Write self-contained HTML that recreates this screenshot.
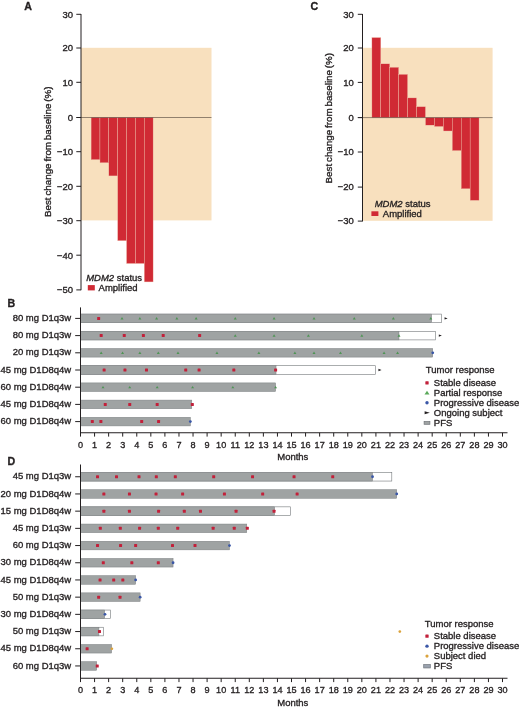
<!DOCTYPE html>
<html lang="en">
<head>
<meta charset="utf-8">
<title>Figure</title>
<style>
html,body{margin:0;padding:0;background:#fff;}
body{width:520px;height:708px;overflow:hidden;}
svg{display:block;font-family:"Liberation Sans",Arial,Helvetica,sans-serif;fill:#231f20;}
text{stroke:#231f20;stroke-width:0.34px;}
</style>
</head>
<body>
<svg width="520" height="708" viewBox="0 0 520 708">
<rect x="0" y="0" width="520" height="708" fill="#ffffff"/>
<text transform="translate(24.20 10.20) scale(0.97 1)" font-size="11" font-weight="bold">A</text>
<rect x="81.00" y="47.80" width="130.50" height="172.60" fill="#f8e0be"/>
<rect x="91.10" y="117.50" width="8.86" height="42.16" fill="#d02a34" stroke="#f0c9b4" stroke-width="0.35"/>
<rect x="99.96" y="117.50" width="8.86" height="45.27" fill="#d02a34" stroke="#f0c9b4" stroke-width="0.35"/>
<rect x="108.82" y="117.50" width="8.86" height="58.42" fill="#d02a34" stroke="#f0c9b4" stroke-width="0.35"/>
<rect x="117.68" y="117.50" width="8.86" height="123.21" fill="#d02a34" stroke="#f0c9b4" stroke-width="0.35"/>
<rect x="126.54" y="117.50" width="8.86" height="146.03" fill="#d02a34" stroke="#f0c9b4" stroke-width="0.35"/>
<rect x="135.40" y="117.50" width="8.86" height="146.03" fill="#d02a34" stroke="#f0c9b4" stroke-width="0.35"/>
<rect x="144.26" y="117.50" width="8.86" height="164.42" fill="#d02a34" stroke="#f0c9b4" stroke-width="0.35"/>
<line x1="76.30" y1="117.50" x2="211.50" y2="117.50" stroke="#3a302a" stroke-width="0.55"/>
<line x1="81.00" y1="14.00" x2="81.00" y2="290.20" stroke="#231f20" stroke-width="1.0"/>
<line x1="76.30" y1="14.30" x2="81.00" y2="14.30" stroke="#231f20" stroke-width="1.0"/>
<text transform="translate(73.15 17.60) scale(0.97 1)" font-size="9.8" text-anchor="end">30</text>
<line x1="76.30" y1="48.00" x2="81.00" y2="48.00" stroke="#231f20" stroke-width="1.0"/>
<text transform="translate(73.15 51.30) scale(0.97 1)" font-size="9.8" text-anchor="end">20</text>
<line x1="76.30" y1="82.30" x2="81.00" y2="82.30" stroke="#231f20" stroke-width="1.0"/>
<text transform="translate(73.15 85.60) scale(0.97 1)" font-size="9.8" text-anchor="end">10</text>
<line x1="76.30" y1="117.50" x2="81.00" y2="117.50" stroke="#231f20" stroke-width="1.0"/>
<text transform="translate(73.15 120.80) scale(0.97 1)" font-size="9.8" text-anchor="end">0</text>
<line x1="76.30" y1="151.70" x2="81.00" y2="151.70" stroke="#231f20" stroke-width="1.0"/>
<text transform="translate(73.15 155.00) scale(0.97 1)" font-size="9.8" text-anchor="end">−10</text>
<line x1="76.30" y1="186.30" x2="81.00" y2="186.30" stroke="#231f20" stroke-width="1.0"/>
<text transform="translate(73.15 189.60) scale(0.97 1)" font-size="9.8" text-anchor="end">−20</text>
<line x1="76.30" y1="220.70" x2="81.00" y2="220.70" stroke="#231f20" stroke-width="1.0"/>
<text transform="translate(73.15 224.00) scale(0.97 1)" font-size="9.8" text-anchor="end">−30</text>
<line x1="76.30" y1="255.20" x2="81.00" y2="255.20" stroke="#231f20" stroke-width="1.0"/>
<text transform="translate(73.15 258.50) scale(0.97 1)" font-size="9.8" text-anchor="end">−40</text>
<line x1="76.30" y1="289.90" x2="81.00" y2="289.90" stroke="#231f20" stroke-width="1.0"/>
<text transform="translate(73.15 293.20) scale(0.97 1)" font-size="9.8" text-anchor="end">−50</text>
<text transform="translate(50.90,151.80) rotate(-90)" font-size="9.8" text-anchor="middle" word-spacing="-0.85">Best change from baseline (%)</text>
<text transform="translate(86.20 281.00) scale(0.97 1)" font-size="9.8"><tspan font-style="italic">MDM2</tspan> status</text>
<rect x="87.80" y="285.10" width="7.00" height="5.30" fill="#d02a34"/>
<text transform="translate(98.60 291.30) scale(0.97 1)" font-size="9.8">Amplified</text>
<text transform="translate(310.40 10.20) scale(0.97 1)" font-size="11" font-weight="bold">C</text>
<rect x="362.50" y="47.80" width="130.10" height="173.00" fill="#f8e0be"/>
<rect x="371.90" y="37.55" width="8.93" height="80.05" fill="#d02a34" stroke="#f0c9b4" stroke-width="0.35"/>
<rect x="380.83" y="63.82" width="8.93" height="53.78" fill="#d02a34" stroke="#f0c9b4" stroke-width="0.35"/>
<rect x="389.76" y="67.26" width="8.93" height="50.34" fill="#d02a34" stroke="#f0c9b4" stroke-width="0.35"/>
<rect x="398.69" y="74.32" width="8.93" height="43.28" fill="#d02a34" stroke="#f0c9b4" stroke-width="0.35"/>
<rect x="407.62" y="97.89" width="8.93" height="19.71" fill="#d02a34" stroke="#f0c9b4" stroke-width="0.35"/>
<rect x="416.55" y="106.69" width="8.93" height="10.91" fill="#d02a34" stroke="#f0c9b4" stroke-width="0.35"/>
<rect x="425.48" y="117.60" width="8.93" height="7.57" fill="#d02a34" stroke="#f0c9b4" stroke-width="0.35"/>
<rect x="434.41" y="117.60" width="8.93" height="8.94" fill="#d02a34" stroke="#f0c9b4" stroke-width="0.35"/>
<rect x="443.34" y="117.60" width="8.93" height="13.42" fill="#d02a34" stroke="#f0c9b4" stroke-width="0.35"/>
<rect x="452.27" y="117.60" width="8.93" height="33.02" fill="#d02a34" stroke="#f0c9b4" stroke-width="0.35"/>
<rect x="461.20" y="117.60" width="8.93" height="71.20" fill="#d02a34" stroke="#f0c9b4" stroke-width="0.35"/>
<rect x="470.13" y="117.60" width="8.93" height="82.76" fill="#d02a34" stroke="#f0c9b4" stroke-width="0.35"/>
<line x1="357.80" y1="117.60" x2="492.60" y2="117.60" stroke="#3a302a" stroke-width="0.55"/>
<line x1="362.50" y1="14.00" x2="362.50" y2="221.40" stroke="#231f20" stroke-width="1.0"/>
<line x1="357.80" y1="14.30" x2="362.50" y2="14.30" stroke="#231f20" stroke-width="1.0"/>
<text transform="translate(353.90 17.60) scale(0.97 1)" font-size="9.8" text-anchor="end">30</text>
<line x1="357.80" y1="48.00" x2="362.50" y2="48.00" stroke="#231f20" stroke-width="1.0"/>
<text transform="translate(353.90 51.30) scale(0.97 1)" font-size="9.8" text-anchor="end">20</text>
<line x1="357.80" y1="82.40" x2="362.50" y2="82.40" stroke="#231f20" stroke-width="1.0"/>
<text transform="translate(353.90 85.70) scale(0.97 1)" font-size="9.8" text-anchor="end">10</text>
<line x1="357.80" y1="117.60" x2="362.50" y2="117.60" stroke="#231f20" stroke-width="1.0"/>
<text transform="translate(353.90 120.90) scale(0.97 1)" font-size="9.8" text-anchor="end">0</text>
<line x1="357.80" y1="152.00" x2="362.50" y2="152.00" stroke="#231f20" stroke-width="1.0"/>
<text transform="translate(353.90 155.30) scale(0.97 1)" font-size="9.8" text-anchor="end">−10</text>
<line x1="357.80" y1="187.10" x2="362.50" y2="187.10" stroke="#231f20" stroke-width="1.0"/>
<text transform="translate(353.90 190.40) scale(0.97 1)" font-size="9.8" text-anchor="end">−20</text>
<line x1="357.80" y1="221.10" x2="362.50" y2="221.10" stroke="#231f20" stroke-width="1.0"/>
<text transform="translate(353.90 224.40) scale(0.97 1)" font-size="9.8" text-anchor="end">−30</text>
<text transform="translate(331.70,118.20) rotate(-90)" font-size="9.8" text-anchor="middle" word-spacing="-0.85">Best change from baseline (%)</text>
<text transform="translate(374.70 206.50) scale(0.97 1)" font-size="9.8"><tspan font-style="italic">MDM2</tspan> status</text>
<rect x="371.40" y="211.30" width="7.00" height="4.70" fill="#d02a34"/>
<text transform="translate(382.80 217.00) scale(0.97 1)" font-size="9.8">Amplified</text>
<text transform="translate(7.60 306.50) scale(0.97 1)" font-size="11" font-weight="bold">B</text>
<rect x="80.50" y="314.10" width="360.96" height="8.60" fill="#ffffff" stroke="#73777a" stroke-width="0.6"/>
<rect x="80.50" y="314.10" width="351.11" height="8.60" fill="#9fa3a3" stroke="#7b7f80" stroke-width="0.5"/>
<rect x="97.15" y="316.90" width="3.00" height="3.00" rx="0.5" fill="#c2203a"/>
<path d="M120.50 319.50 L123.50 319.50 L122.00 317.10 Z" fill="#4f9555"/>
<path d="M138.36 319.50 L141.36 319.50 L139.86 317.10 Z" fill="#4f9555"/>
<path d="M155.10 319.50 L158.10 319.50 L156.60 317.10 Z" fill="#4f9555"/>
<path d="M175.36 319.50 L178.36 319.50 L176.86 317.10 Z" fill="#4f9555"/>
<path d="M194.63 319.50 L197.63 319.50 L196.13 317.10 Z" fill="#4f9555"/>
<path d="M233.74 319.50 L236.74 319.50 L235.24 317.10 Z" fill="#4f9555"/>
<path d="M272.56 319.50 L275.56 319.50 L274.06 317.10 Z" fill="#4f9555"/>
<path d="M312.51 319.50 L315.51 319.50 L314.01 317.10 Z" fill="#4f9555"/>
<path d="M352.74 319.50 L355.74 319.50 L354.24 317.10 Z" fill="#4f9555"/>
<path d="M391.85 319.50 L394.85 319.50 L393.35 317.10 Z" fill="#4f9555"/>
<path d="M429.27 319.50 L432.27 319.50 L430.77 317.10 Z" fill="#4f9555"/>
<path d="M444.56 317.20 L447.66 318.40 L444.56 319.60 Z" fill="#231f20"/>
<line x1="75.20" y1="318.40" x2="80.50" y2="318.40" stroke="#231f20" stroke-width="1.0"/>
<text transform="translate(71.20 320.95) scale(0.97 1)" font-size="9.8" text-anchor="end">80 mg D1q3w</text>
<rect x="80.50" y="331.30" width="355.19" height="8.60" fill="#ffffff" stroke="#73777a" stroke-width="0.6"/>
<rect x="80.50" y="331.30" width="318.48" height="8.60" fill="#9fa3a3" stroke="#7b7f80" stroke-width="0.5"/>
<rect x="99.68" y="334.10" width="3.00" height="3.00" rx="0.5" fill="#c2203a"/>
<rect x="122.75" y="334.10" width="3.00" height="3.00" rx="0.5" fill="#c2203a"/>
<rect x="141.88" y="334.10" width="3.00" height="3.00" rx="0.5" fill="#c2203a"/>
<rect x="161.71" y="334.10" width="3.00" height="3.00" rx="0.5" fill="#c2203a"/>
<rect x="198.15" y="334.10" width="3.00" height="3.00" rx="0.5" fill="#c2203a"/>
<path d="M233.74 336.70 L236.74 336.70 L235.24 334.30 Z" fill="#4f9555"/>
<path d="M272.56 336.70 L275.56 336.70 L274.06 334.30 Z" fill="#4f9555"/>
<path d="M306.89 336.70 L309.89 336.70 L308.39 334.30 Z" fill="#4f9555"/>
<path d="M360.34 336.70 L363.34 336.70 L361.84 334.30 Z" fill="#4f9555"/>
<path d="M397.48 336.70 L400.48 336.70 L398.98 334.30 Z" fill="#4f9555"/>
<path d="M438.79 334.40 L441.89 335.60 L438.79 336.80 Z" fill="#231f20"/>
<line x1="75.20" y1="335.60" x2="80.50" y2="335.60" stroke="#231f20" stroke-width="1.0"/>
<text transform="translate(71.20 338.15) scale(0.97 1)" font-size="9.8" text-anchor="end">80 mg D1q3w</text>
<rect x="80.50" y="348.50" width="352.24" height="8.60" fill="#9fa3a3" stroke="#7b7f80" stroke-width="0.5"/>
<path d="M99.68 353.90 L102.68 353.90 L101.18 351.50 Z" fill="#4f9555"/>
<path d="M121.06 353.90 L124.06 353.90 L122.56 351.50 Z" fill="#4f9555"/>
<path d="M138.36 353.90 L141.36 353.90 L139.86 351.50 Z" fill="#4f9555"/>
<path d="M156.79 353.90 L159.79 353.90 L158.29 351.50 Z" fill="#4f9555"/>
<path d="M176.48 353.90 L179.48 353.90 L177.98 351.50 Z" fill="#4f9555"/>
<path d="M215.45 353.90 L218.45 353.90 L216.95 351.50 Z" fill="#4f9555"/>
<path d="M257.37 353.90 L260.37 353.90 L258.87 351.50 Z" fill="#4f9555"/>
<path d="M293.38 353.90 L296.38 353.90 L294.88 351.50 Z" fill="#4f9555"/>
<path d="M312.51 353.90 L315.51 353.90 L314.01 351.50 Z" fill="#4f9555"/>
<path d="M338.96 353.90 L341.96 353.90 L340.46 351.50 Z" fill="#4f9555"/>
<path d="M382.57 353.90 L385.57 353.90 L384.07 351.50 Z" fill="#4f9555"/>
<path d="M396.07 353.90 L399.07 353.90 L397.57 351.50 Z" fill="#4f9555"/>
<circle cx="432.74" cy="352.80" r="1.4" fill="#3a57a7"/>
<line x1="75.20" y1="352.80" x2="80.50" y2="352.80" stroke="#231f20" stroke-width="1.0"/>
<text transform="translate(71.20 355.35) scale(0.97 1)" font-size="9.8" text-anchor="end">20 mg D1q3w</text>
<rect x="80.50" y="365.70" width="294.84" height="8.60" fill="#ffffff" stroke="#73777a" stroke-width="0.6"/>
<rect x="80.50" y="365.70" width="195.53" height="8.60" fill="#9fa3a3" stroke="#7b7f80" stroke-width="0.5"/>
<rect x="102.63" y="368.50" width="3.00" height="3.00" rx="0.5" fill="#c2203a"/>
<rect x="123.45" y="368.50" width="3.00" height="3.00" rx="0.5" fill="#c2203a"/>
<rect x="144.97" y="368.50" width="3.00" height="3.00" rx="0.5" fill="#c2203a"/>
<rect x="184.22" y="368.50" width="3.00" height="3.00" rx="0.5" fill="#c2203a"/>
<rect x="197.58" y="368.50" width="3.00" height="3.00" rx="0.5" fill="#c2203a"/>
<rect x="232.33" y="368.50" width="3.00" height="3.00" rx="0.5" fill="#c2203a"/>
<rect x="274.11" y="368.50" width="3.00" height="3.00" rx="0.5" fill="#c2203a"/>
<path d="M378.44 368.80 L381.54 370.00 L378.44 371.20 Z" fill="#231f20"/>
<line x1="75.20" y1="370.00" x2="80.50" y2="370.00" stroke="#231f20" stroke-width="1.0"/>
<text transform="translate(71.20 372.55) scale(0.97 1)" font-size="9.8" text-anchor="end">45 mg D1D8q4w</text>
<rect x="80.50" y="382.90" width="195.11" height="8.60" fill="#9fa3a3" stroke="#7b7f80" stroke-width="0.5"/>
<path d="M101.51 388.30 L104.51 388.30 L103.01 385.90 Z" fill="#4f9555"/>
<path d="M128.23 388.30 L131.23 388.30 L129.73 385.90 Z" fill="#4f9555"/>
<path d="M155.67 388.30 L158.67 388.30 L157.17 385.90 Z" fill="#4f9555"/>
<path d="M191.11 388.30 L194.11 388.30 L192.61 385.90 Z" fill="#4f9555"/>
<path d="M231.35 388.30 L234.35 388.30 L232.85 385.90 Z" fill="#4f9555"/>
<path d="M274.11 388.30 L277.11 388.30 L275.61 385.90 Z" fill="#4f9555"/>
<line x1="75.20" y1="387.20" x2="80.50" y2="387.20" stroke="#231f20" stroke-width="1.0"/>
<text transform="translate(71.20 389.75) scale(0.97 1)" font-size="9.8" text-anchor="end">60 mg D1D8q4w</text>
<rect x="80.50" y="400.10" width="111.27" height="8.60" fill="#9fa3a3" stroke="#7b7f80" stroke-width="0.5"/>
<rect x="103.76" y="402.90" width="3.00" height="3.00" rx="0.5" fill="#c2203a"/>
<rect x="128.23" y="402.90" width="3.00" height="3.00" rx="0.5" fill="#c2203a"/>
<rect x="155.67" y="402.90" width="3.00" height="3.00" rx="0.5" fill="#c2203a"/>
<rect x="190.83" y="402.90" width="3.00" height="3.00" rx="0.5" fill="#c2203a"/>
<line x1="75.20" y1="404.40" x2="80.50" y2="404.40" stroke="#231f20" stroke-width="1.0"/>
<text transform="translate(71.20 406.95) scale(0.97 1)" font-size="9.8" text-anchor="end">45 mg D1D8q4w</text>
<rect x="80.50" y="417.30" width="109.86" height="8.60" fill="#9fa3a3" stroke="#7b7f80" stroke-width="0.5"/>
<rect x="90.82" y="420.10" width="3.00" height="3.00" rx="0.5" fill="#c2203a"/>
<rect x="99.40" y="420.10" width="3.00" height="3.00" rx="0.5" fill="#c2203a"/>
<rect x="140.19" y="420.10" width="3.00" height="3.00" rx="0.5" fill="#c2203a"/>
<rect x="157.07" y="420.10" width="3.00" height="3.00" rx="0.5" fill="#c2203a"/>
<circle cx="190.36" cy="421.60" r="1.4" fill="#3a57a7"/>
<line x1="75.20" y1="421.60" x2="80.50" y2="421.60" stroke="#231f20" stroke-width="1.0"/>
<text transform="translate(71.20 424.15) scale(0.97 1)" font-size="9.8" text-anchor="end">60 mg D1D8q4w</text>
<line x1="80.50" y1="307.40" x2="80.50" y2="433.15" stroke="#231f20" stroke-width="1.0"/>
<line x1="80.00" y1="432.80" x2="507.50" y2="432.80" stroke="#231f20" stroke-width="1.1"/>
<line x1="80.50" y1="432.80" x2="80.50" y2="436.60" stroke="#231f20" stroke-width="1.0"/>
<text transform="translate(80.50 448.30) scale(0.93 1)" font-size="9.8" text-anchor="middle">0</text>
<line x1="94.57" y1="432.80" x2="94.57" y2="436.60" stroke="#231f20" stroke-width="1.0"/>
<text transform="translate(94.57 448.30) scale(0.93 1)" font-size="9.8" text-anchor="middle">1</text>
<line x1="108.63" y1="432.80" x2="108.63" y2="436.60" stroke="#231f20" stroke-width="1.0"/>
<text transform="translate(108.63 448.30) scale(0.93 1)" font-size="9.8" text-anchor="middle">2</text>
<line x1="122.70" y1="432.80" x2="122.70" y2="436.60" stroke="#231f20" stroke-width="1.0"/>
<text transform="translate(122.70 448.30) scale(0.93 1)" font-size="9.8" text-anchor="middle">3</text>
<line x1="136.77" y1="432.80" x2="136.77" y2="436.60" stroke="#231f20" stroke-width="1.0"/>
<text transform="translate(136.77 448.30) scale(0.93 1)" font-size="9.8" text-anchor="middle">4</text>
<line x1="150.84" y1="432.80" x2="150.84" y2="436.60" stroke="#231f20" stroke-width="1.0"/>
<text transform="translate(150.84 448.30) scale(0.93 1)" font-size="9.8" text-anchor="middle">5</text>
<line x1="164.90" y1="432.80" x2="164.90" y2="436.60" stroke="#231f20" stroke-width="1.0"/>
<text transform="translate(164.90 448.30) scale(0.93 1)" font-size="9.8" text-anchor="middle">6</text>
<line x1="178.97" y1="432.80" x2="178.97" y2="436.60" stroke="#231f20" stroke-width="1.0"/>
<text transform="translate(178.97 448.30) scale(0.93 1)" font-size="9.8" text-anchor="middle">7</text>
<line x1="193.04" y1="432.80" x2="193.04" y2="436.60" stroke="#231f20" stroke-width="1.0"/>
<text transform="translate(193.04 448.30) scale(0.93 1)" font-size="9.8" text-anchor="middle">8</text>
<line x1="207.10" y1="432.80" x2="207.10" y2="436.60" stroke="#231f20" stroke-width="1.0"/>
<text transform="translate(207.10 448.30) scale(0.93 1)" font-size="9.8" text-anchor="middle">9</text>
<line x1="221.17" y1="432.80" x2="221.17" y2="436.60" stroke="#231f20" stroke-width="1.0"/>
<text transform="translate(221.17 448.30) scale(0.93 1)" font-size="9.8" text-anchor="middle">10</text>
<line x1="235.24" y1="432.80" x2="235.24" y2="436.60" stroke="#231f20" stroke-width="1.0"/>
<text transform="translate(235.24 448.30) scale(0.93 1)" font-size="9.8" text-anchor="middle">11</text>
<line x1="249.30" y1="432.80" x2="249.30" y2="436.60" stroke="#231f20" stroke-width="1.0"/>
<text transform="translate(249.30 448.30) scale(0.93 1)" font-size="9.8" text-anchor="middle">12</text>
<line x1="263.37" y1="432.80" x2="263.37" y2="436.60" stroke="#231f20" stroke-width="1.0"/>
<text transform="translate(263.37 448.30) scale(0.93 1)" font-size="9.8" text-anchor="middle">13</text>
<line x1="277.44" y1="432.80" x2="277.44" y2="436.60" stroke="#231f20" stroke-width="1.0"/>
<text transform="translate(277.44 448.30) scale(0.93 1)" font-size="9.8" text-anchor="middle">14</text>
<line x1="291.50" y1="432.80" x2="291.50" y2="436.60" stroke="#231f20" stroke-width="1.0"/>
<text transform="translate(291.50 448.30) scale(0.93 1)" font-size="9.8" text-anchor="middle">15</text>
<line x1="305.57" y1="432.80" x2="305.57" y2="436.60" stroke="#231f20" stroke-width="1.0"/>
<text transform="translate(305.57 448.30) scale(0.93 1)" font-size="9.8" text-anchor="middle">16</text>
<line x1="319.64" y1="432.80" x2="319.64" y2="436.60" stroke="#231f20" stroke-width="1.0"/>
<text transform="translate(319.64 448.30) scale(0.93 1)" font-size="9.8" text-anchor="middle">17</text>
<line x1="333.71" y1="432.80" x2="333.71" y2="436.60" stroke="#231f20" stroke-width="1.0"/>
<text transform="translate(333.71 448.30) scale(0.93 1)" font-size="9.8" text-anchor="middle">18</text>
<line x1="347.77" y1="432.80" x2="347.77" y2="436.60" stroke="#231f20" stroke-width="1.0"/>
<text transform="translate(347.77 448.30) scale(0.93 1)" font-size="9.8" text-anchor="middle">19</text>
<line x1="361.84" y1="432.80" x2="361.84" y2="436.60" stroke="#231f20" stroke-width="1.0"/>
<text transform="translate(361.84 448.30) scale(0.93 1)" font-size="9.8" text-anchor="middle">20</text>
<line x1="375.91" y1="432.80" x2="375.91" y2="436.60" stroke="#231f20" stroke-width="1.0"/>
<text transform="translate(375.91 448.30) scale(0.93 1)" font-size="9.8" text-anchor="middle">21</text>
<line x1="389.97" y1="432.80" x2="389.97" y2="436.60" stroke="#231f20" stroke-width="1.0"/>
<text transform="translate(389.97 448.30) scale(0.93 1)" font-size="9.8" text-anchor="middle">22</text>
<line x1="404.04" y1="432.80" x2="404.04" y2="436.60" stroke="#231f20" stroke-width="1.0"/>
<text transform="translate(404.04 448.30) scale(0.93 1)" font-size="9.8" text-anchor="middle">23</text>
<line x1="418.11" y1="432.80" x2="418.11" y2="436.60" stroke="#231f20" stroke-width="1.0"/>
<text transform="translate(418.11 448.30) scale(0.93 1)" font-size="9.8" text-anchor="middle">24</text>
<line x1="432.18" y1="432.80" x2="432.18" y2="436.60" stroke="#231f20" stroke-width="1.0"/>
<text transform="translate(432.18 448.30) scale(0.93 1)" font-size="9.8" text-anchor="middle">25</text>
<line x1="446.24" y1="432.80" x2="446.24" y2="436.60" stroke="#231f20" stroke-width="1.0"/>
<text transform="translate(446.24 448.30) scale(0.93 1)" font-size="9.8" text-anchor="middle">26</text>
<line x1="460.31" y1="432.80" x2="460.31" y2="436.60" stroke="#231f20" stroke-width="1.0"/>
<text transform="translate(460.31 448.30) scale(0.93 1)" font-size="9.8" text-anchor="middle">27</text>
<line x1="474.38" y1="432.80" x2="474.38" y2="436.60" stroke="#231f20" stroke-width="1.0"/>
<text transform="translate(474.38 448.30) scale(0.93 1)" font-size="9.8" text-anchor="middle">28</text>
<line x1="488.44" y1="432.80" x2="488.44" y2="436.60" stroke="#231f20" stroke-width="1.0"/>
<text transform="translate(488.44 448.30) scale(0.93 1)" font-size="9.8" text-anchor="middle">29</text>
<line x1="502.51" y1="432.80" x2="502.51" y2="436.60" stroke="#231f20" stroke-width="1.0"/>
<text transform="translate(502.51 448.30) scale(0.93 1)" font-size="9.8" text-anchor="middle">30</text>
<text transform="translate(292.80 459.50) scale(0.97 1)" font-size="9.8" text-anchor="middle">Months</text>
<text transform="translate(425.80 373.40) scale(0.97 1)" font-size="9.8">Tumor response</text>
<rect x="425.35" y="381.25" width="3.30" height="3.30" rx="0.5" fill="#c2203a"/>
<text transform="translate(433.80 385.70) scale(0.97 1)" font-size="9.8">Stable disease</text>
<path d="M424.50 394.45 L429.50 394.45 L427.00 390.75 Z" fill="#5aa95a"/>
<text transform="translate(433.80 395.65) scale(0.97 1)" font-size="9.8">Partial response</text>
<circle cx="427.00" cy="402.80" r="1.7" fill="#3a57a7"/>
<text transform="translate(433.80 405.60) scale(0.97 1)" font-size="9.8">Progressive disease</text>
<path d="M424.60 411.15 L429.80 412.75 L424.60 414.35 Z" fill="#231f20"/>
<text transform="translate(433.80 415.55) scale(0.97 1)" font-size="9.8">Ongoing subject</text>
<rect x="424.10" y="421.50" width="5.80" height="2.80" fill="#9fa3a3" stroke="#6f7478" stroke-width="0.7"/>
<text transform="translate(433.80 425.50) scale(0.97 1)" font-size="9.8">PFS</text>
<text transform="translate(7.60 465.00) scale(0.97 1)" font-size="11" font-weight="bold">D</text>
<rect x="80.50" y="472.45" width="311.30" height="8.60" fill="#ffffff" stroke="#73777a" stroke-width="0.6"/>
<rect x="80.50" y="472.45" width="292.03" height="8.60" fill="#9fa3a3" stroke="#7b7f80" stroke-width="0.5"/>
<rect x="96.02" y="475.25" width="3.00" height="3.00" rx="0.5" fill="#c2203a"/>
<rect x="115.01" y="475.25" width="3.00" height="3.00" rx="0.5" fill="#c2203a"/>
<rect x="137.52" y="475.25" width="3.00" height="3.00" rx="0.5" fill="#c2203a"/>
<rect x="154.82" y="475.25" width="3.00" height="3.00" rx="0.5" fill="#c2203a"/>
<rect x="173.81" y="475.25" width="3.00" height="3.00" rx="0.5" fill="#c2203a"/>
<rect x="212.21" y="475.25" width="3.00" height="3.00" rx="0.5" fill="#c2203a"/>
<rect x="251.04" y="475.25" width="3.00" height="3.00" rx="0.5" fill="#c2203a"/>
<rect x="292.54" y="475.25" width="3.00" height="3.00" rx="0.5" fill="#c2203a"/>
<rect x="331.22" y="475.25" width="3.00" height="3.00" rx="0.5" fill="#c2203a"/>
<circle cx="372.53" cy="476.75" r="1.4" fill="#3a57a7"/>
<line x1="75.20" y1="476.75" x2="80.50" y2="476.75" stroke="#231f20" stroke-width="1.0"/>
<text transform="translate(71.20 479.30) scale(0.97 1)" font-size="9.8" text-anchor="end">45 mg D1q3w</text>
<rect x="80.50" y="489.65" width="316.23" height="8.60" fill="#9fa3a3" stroke="#7b7f80" stroke-width="0.5"/>
<rect x="102.35" y="492.45" width="3.00" height="3.00" rx="0.5" fill="#c2203a"/>
<rect x="127.95" y="492.45" width="3.00" height="3.00" rx="0.5" fill="#c2203a"/>
<rect x="154.54" y="492.45" width="3.00" height="3.00" rx="0.5" fill="#c2203a"/>
<rect x="181.13" y="492.45" width="3.00" height="3.00" rx="0.5" fill="#c2203a"/>
<rect x="222.91" y="492.45" width="3.00" height="3.00" rx="0.5" fill="#c2203a"/>
<rect x="261.17" y="492.45" width="3.00" height="3.00" rx="0.5" fill="#c2203a"/>
<rect x="295.63" y="492.45" width="3.00" height="3.00" rx="0.5" fill="#c2203a"/>
<circle cx="396.73" cy="493.95" r="1.4" fill="#3a57a7"/>
<line x1="75.20" y1="493.95" x2="80.50" y2="493.95" stroke="#231f20" stroke-width="1.0"/>
<text transform="translate(71.20 496.50) scale(0.97 1)" font-size="9.8" text-anchor="end">20 mg D1D8q4w</text>
<rect x="80.50" y="506.85" width="210.02" height="8.60" fill="#ffffff" stroke="#73777a" stroke-width="0.6"/>
<rect x="80.50" y="506.85" width="194.12" height="8.60" fill="#9fa3a3" stroke="#7b7f80" stroke-width="0.5"/>
<rect x="102.35" y="509.65" width="3.00" height="3.00" rx="0.5" fill="#c2203a"/>
<rect x="127.95" y="509.65" width="3.00" height="3.00" rx="0.5" fill="#c2203a"/>
<rect x="157.07" y="509.65" width="3.00" height="3.00" rx="0.5" fill="#c2203a"/>
<rect x="182.81" y="509.65" width="3.00" height="3.00" rx="0.5" fill="#c2203a"/>
<rect x="198.99" y="509.65" width="3.00" height="3.00" rx="0.5" fill="#c2203a"/>
<rect x="234.58" y="509.65" width="3.00" height="3.00" rx="0.5" fill="#c2203a"/>
<rect x="272.56" y="509.65" width="3.00" height="3.00" rx="0.5" fill="#c2203a"/>
<line x1="75.20" y1="511.15" x2="80.50" y2="511.15" stroke="#231f20" stroke-width="1.0"/>
<text transform="translate(71.20 513.70) scale(0.97 1)" font-size="9.8" text-anchor="end">15 mg D1D8q4w</text>
<rect x="80.50" y="524.05" width="166.27" height="8.60" fill="#9fa3a3" stroke="#7b7f80" stroke-width="0.5"/>
<rect x="98.83" y="526.85" width="3.00" height="3.00" rx="0.5" fill="#c2203a"/>
<rect x="118.81" y="526.85" width="3.00" height="3.00" rx="0.5" fill="#c2203a"/>
<rect x="138.08" y="526.85" width="3.00" height="3.00" rx="0.5" fill="#c2203a"/>
<rect x="156.79" y="526.85" width="3.00" height="3.00" rx="0.5" fill="#c2203a"/>
<rect x="176.20" y="526.85" width="3.00" height="3.00" rx="0.5" fill="#c2203a"/>
<rect x="211.65" y="526.85" width="3.00" height="3.00" rx="0.5" fill="#c2203a"/>
<rect x="232.75" y="526.85" width="3.00" height="3.00" rx="0.5" fill="#c2203a"/>
<rect x="245.83" y="526.85" width="3.00" height="3.00" rx="0.5" fill="#c2203a"/>
<line x1="75.20" y1="528.35" x2="80.50" y2="528.35" stroke="#231f20" stroke-width="1.0"/>
<text transform="translate(71.20 530.90) scale(0.97 1)" font-size="9.8" text-anchor="end">45 mg D1q3w</text>
<rect x="80.50" y="541.25" width="148.97" height="8.60" fill="#9fa3a3" stroke="#7b7f80" stroke-width="0.5"/>
<rect x="96.02" y="544.05" width="3.00" height="3.00" rx="0.5" fill="#c2203a"/>
<rect x="119.09" y="544.05" width="3.00" height="3.00" rx="0.5" fill="#c2203a"/>
<rect x="134.14" y="544.05" width="3.00" height="3.00" rx="0.5" fill="#c2203a"/>
<rect x="171.00" y="544.05" width="3.00" height="3.00" rx="0.5" fill="#c2203a"/>
<rect x="193.51" y="544.05" width="3.00" height="3.00" rx="0.5" fill="#c2203a"/>
<circle cx="229.47" cy="545.55" r="1.4" fill="#3a57a7"/>
<line x1="75.20" y1="545.55" x2="80.50" y2="545.55" stroke="#231f20" stroke-width="1.0"/>
<text transform="translate(71.20 548.10) scale(0.97 1)" font-size="9.8" text-anchor="end">60 mg D1q3w</text>
<rect x="80.50" y="558.45" width="92.56" height="8.60" fill="#9fa3a3" stroke="#7b7f80" stroke-width="0.5"/>
<rect x="101.79" y="561.25" width="3.00" height="3.00" rx="0.5" fill="#c2203a"/>
<rect x="130.34" y="561.25" width="3.00" height="3.00" rx="0.5" fill="#c2203a"/>
<rect x="156.79" y="561.25" width="3.00" height="3.00" rx="0.5" fill="#c2203a"/>
<circle cx="173.06" cy="562.75" r="1.4" fill="#3a57a7"/>
<line x1="75.20" y1="562.75" x2="80.50" y2="562.75" stroke="#231f20" stroke-width="1.0"/>
<text transform="translate(71.20 565.30) scale(0.97 1)" font-size="9.8" text-anchor="end">30 mg D1D8q4w</text>
<rect x="80.50" y="575.65" width="55.14" height="8.60" fill="#9fa3a3" stroke="#7b7f80" stroke-width="0.5"/>
<rect x="98.55" y="578.45" width="3.00" height="3.00" rx="0.5" fill="#c2203a"/>
<rect x="112.20" y="578.45" width="3.00" height="3.00" rx="0.5" fill="#c2203a"/>
<rect x="121.34" y="578.45" width="3.00" height="3.00" rx="0.5" fill="#c2203a"/>
<circle cx="135.64" cy="579.95" r="1.4" fill="#3a57a7"/>
<line x1="75.20" y1="579.95" x2="80.50" y2="579.95" stroke="#231f20" stroke-width="1.0"/>
<text transform="translate(71.20 582.50) scale(0.97 1)" font-size="9.8" text-anchor="end">45 mg D1D8q4w</text>
<rect x="80.50" y="592.85" width="59.64" height="8.60" fill="#9fa3a3" stroke="#7b7f80" stroke-width="0.5"/>
<rect x="97.15" y="595.65" width="3.00" height="3.00" rx="0.5" fill="#c2203a"/>
<rect x="118.53" y="595.65" width="3.00" height="3.00" rx="0.5" fill="#c2203a"/>
<circle cx="140.14" cy="597.15" r="1.4" fill="#3a57a7"/>
<line x1="75.20" y1="597.15" x2="80.50" y2="597.15" stroke="#231f20" stroke-width="1.0"/>
<text transform="translate(71.20 599.70) scale(0.97 1)" font-size="9.8" text-anchor="end">50 mg D1q3w</text>
<rect x="80.50" y="610.05" width="29.96" height="8.60" fill="#ffffff" stroke="#73777a" stroke-width="0.6"/>
<rect x="80.50" y="610.05" width="24.20" height="8.60" fill="#9fa3a3" stroke="#7b7f80" stroke-width="0.5"/>
<circle cx="104.98" cy="614.35" r="1.4" fill="#3a57a7"/>
<line x1="75.20" y1="614.35" x2="80.50" y2="614.35" stroke="#231f20" stroke-width="1.0"/>
<text transform="translate(71.20 616.90) scale(0.97 1)" font-size="9.8" text-anchor="end">30 mg D1D8q4w</text>
<rect x="80.50" y="627.25" width="22.79" height="8.60" fill="#ffffff" stroke="#73777a" stroke-width="0.6"/>
<rect x="80.50" y="627.25" width="18.43" height="8.60" fill="#9fa3a3" stroke="#7b7f80" stroke-width="0.5"/>
<rect x="97.99" y="630.05" width="3.00" height="3.00" rx="0.5" fill="#c2203a"/>
<line x1="75.20" y1="631.55" x2="80.50" y2="631.55" stroke="#231f20" stroke-width="1.0"/>
<text transform="translate(71.20 634.10) scale(0.97 1)" font-size="9.8" text-anchor="end">50 mg D1q3w</text>
<rect x="80.50" y="644.45" width="31.09" height="8.60" fill="#9fa3a3" stroke="#7b7f80" stroke-width="0.5"/>
<rect x="85.61" y="647.25" width="3.00" height="3.00" rx="0.5" fill="#c2203a"/>
<circle cx="111.87" cy="648.75" r="1.35" fill="#dba33c"/>
<line x1="75.20" y1="648.75" x2="80.50" y2="648.75" stroke="#231f20" stroke-width="1.0"/>
<text transform="translate(71.20 651.30) scale(0.97 1)" font-size="9.8" text-anchor="end">45 mg D1D8q4w</text>
<rect x="80.50" y="661.65" width="16.18" height="8.60" fill="#9fa3a3" stroke="#7b7f80" stroke-width="0.5"/>
<rect x="95.74" y="664.45" width="3.00" height="3.00" rx="0.5" fill="#c2203a"/>
<line x1="75.20" y1="665.95" x2="80.50" y2="665.95" stroke="#231f20" stroke-width="1.0"/>
<text transform="translate(71.20 668.50) scale(0.97 1)" font-size="9.8" text-anchor="end">60 mg D1q3w</text>
<circle cx="399.82" cy="631.55" r="1.35" fill="#dba33c"/>
<line x1="80.50" y1="464.50" x2="80.50" y2="678.65" stroke="#231f20" stroke-width="1.0"/>
<line x1="80.00" y1="678.30" x2="507.50" y2="678.30" stroke="#231f20" stroke-width="1.1"/>
<line x1="80.50" y1="678.30" x2="80.50" y2="682.10" stroke="#231f20" stroke-width="1.0"/>
<text transform="translate(80.50 692.90) scale(0.93 1)" font-size="9.8" text-anchor="middle">0</text>
<line x1="94.57" y1="678.30" x2="94.57" y2="682.10" stroke="#231f20" stroke-width="1.0"/>
<text transform="translate(94.57 692.90) scale(0.93 1)" font-size="9.8" text-anchor="middle">1</text>
<line x1="108.63" y1="678.30" x2="108.63" y2="682.10" stroke="#231f20" stroke-width="1.0"/>
<text transform="translate(108.63 692.90) scale(0.93 1)" font-size="9.8" text-anchor="middle">2</text>
<line x1="122.70" y1="678.30" x2="122.70" y2="682.10" stroke="#231f20" stroke-width="1.0"/>
<text transform="translate(122.70 692.90) scale(0.93 1)" font-size="9.8" text-anchor="middle">3</text>
<line x1="136.77" y1="678.30" x2="136.77" y2="682.10" stroke="#231f20" stroke-width="1.0"/>
<text transform="translate(136.77 692.90) scale(0.93 1)" font-size="9.8" text-anchor="middle">4</text>
<line x1="150.84" y1="678.30" x2="150.84" y2="682.10" stroke="#231f20" stroke-width="1.0"/>
<text transform="translate(150.84 692.90) scale(0.93 1)" font-size="9.8" text-anchor="middle">5</text>
<line x1="164.90" y1="678.30" x2="164.90" y2="682.10" stroke="#231f20" stroke-width="1.0"/>
<text transform="translate(164.90 692.90) scale(0.93 1)" font-size="9.8" text-anchor="middle">6</text>
<line x1="178.97" y1="678.30" x2="178.97" y2="682.10" stroke="#231f20" stroke-width="1.0"/>
<text transform="translate(178.97 692.90) scale(0.93 1)" font-size="9.8" text-anchor="middle">7</text>
<line x1="193.04" y1="678.30" x2="193.04" y2="682.10" stroke="#231f20" stroke-width="1.0"/>
<text transform="translate(193.04 692.90) scale(0.93 1)" font-size="9.8" text-anchor="middle">8</text>
<line x1="207.10" y1="678.30" x2="207.10" y2="682.10" stroke="#231f20" stroke-width="1.0"/>
<text transform="translate(207.10 692.90) scale(0.93 1)" font-size="9.8" text-anchor="middle">9</text>
<line x1="221.17" y1="678.30" x2="221.17" y2="682.10" stroke="#231f20" stroke-width="1.0"/>
<text transform="translate(221.17 692.90) scale(0.93 1)" font-size="9.8" text-anchor="middle">10</text>
<line x1="235.24" y1="678.30" x2="235.24" y2="682.10" stroke="#231f20" stroke-width="1.0"/>
<text transform="translate(235.24 692.90) scale(0.93 1)" font-size="9.8" text-anchor="middle">11</text>
<line x1="249.30" y1="678.30" x2="249.30" y2="682.10" stroke="#231f20" stroke-width="1.0"/>
<text transform="translate(249.30 692.90) scale(0.93 1)" font-size="9.8" text-anchor="middle">12</text>
<line x1="263.37" y1="678.30" x2="263.37" y2="682.10" stroke="#231f20" stroke-width="1.0"/>
<text transform="translate(263.37 692.90) scale(0.93 1)" font-size="9.8" text-anchor="middle">13</text>
<line x1="277.44" y1="678.30" x2="277.44" y2="682.10" stroke="#231f20" stroke-width="1.0"/>
<text transform="translate(277.44 692.90) scale(0.93 1)" font-size="9.8" text-anchor="middle">14</text>
<line x1="291.50" y1="678.30" x2="291.50" y2="682.10" stroke="#231f20" stroke-width="1.0"/>
<text transform="translate(291.50 692.90) scale(0.93 1)" font-size="9.8" text-anchor="middle">15</text>
<line x1="305.57" y1="678.30" x2="305.57" y2="682.10" stroke="#231f20" stroke-width="1.0"/>
<text transform="translate(305.57 692.90) scale(0.93 1)" font-size="9.8" text-anchor="middle">16</text>
<line x1="319.64" y1="678.30" x2="319.64" y2="682.10" stroke="#231f20" stroke-width="1.0"/>
<text transform="translate(319.64 692.90) scale(0.93 1)" font-size="9.8" text-anchor="middle">17</text>
<line x1="333.71" y1="678.30" x2="333.71" y2="682.10" stroke="#231f20" stroke-width="1.0"/>
<text transform="translate(333.71 692.90) scale(0.93 1)" font-size="9.8" text-anchor="middle">18</text>
<line x1="347.77" y1="678.30" x2="347.77" y2="682.10" stroke="#231f20" stroke-width="1.0"/>
<text transform="translate(347.77 692.90) scale(0.93 1)" font-size="9.8" text-anchor="middle">19</text>
<line x1="361.84" y1="678.30" x2="361.84" y2="682.10" stroke="#231f20" stroke-width="1.0"/>
<text transform="translate(361.84 692.90) scale(0.93 1)" font-size="9.8" text-anchor="middle">20</text>
<line x1="375.91" y1="678.30" x2="375.91" y2="682.10" stroke="#231f20" stroke-width="1.0"/>
<text transform="translate(375.91 692.90) scale(0.93 1)" font-size="9.8" text-anchor="middle">21</text>
<line x1="389.97" y1="678.30" x2="389.97" y2="682.10" stroke="#231f20" stroke-width="1.0"/>
<text transform="translate(389.97 692.90) scale(0.93 1)" font-size="9.8" text-anchor="middle">22</text>
<line x1="404.04" y1="678.30" x2="404.04" y2="682.10" stroke="#231f20" stroke-width="1.0"/>
<text transform="translate(404.04 692.90) scale(0.93 1)" font-size="9.8" text-anchor="middle">23</text>
<line x1="418.11" y1="678.30" x2="418.11" y2="682.10" stroke="#231f20" stroke-width="1.0"/>
<text transform="translate(418.11 692.90) scale(0.93 1)" font-size="9.8" text-anchor="middle">24</text>
<line x1="432.18" y1="678.30" x2="432.18" y2="682.10" stroke="#231f20" stroke-width="1.0"/>
<text transform="translate(432.18 692.90) scale(0.93 1)" font-size="9.8" text-anchor="middle">25</text>
<line x1="446.24" y1="678.30" x2="446.24" y2="682.10" stroke="#231f20" stroke-width="1.0"/>
<text transform="translate(446.24 692.90) scale(0.93 1)" font-size="9.8" text-anchor="middle">26</text>
<line x1="460.31" y1="678.30" x2="460.31" y2="682.10" stroke="#231f20" stroke-width="1.0"/>
<text transform="translate(460.31 692.90) scale(0.93 1)" font-size="9.8" text-anchor="middle">27</text>
<line x1="474.38" y1="678.30" x2="474.38" y2="682.10" stroke="#231f20" stroke-width="1.0"/>
<text transform="translate(474.38 692.90) scale(0.93 1)" font-size="9.8" text-anchor="middle">28</text>
<line x1="488.44" y1="678.30" x2="488.44" y2="682.10" stroke="#231f20" stroke-width="1.0"/>
<text transform="translate(488.44 692.90) scale(0.93 1)" font-size="9.8" text-anchor="middle">29</text>
<line x1="502.51" y1="678.30" x2="502.51" y2="682.10" stroke="#231f20" stroke-width="1.0"/>
<text transform="translate(502.51 692.90) scale(0.93 1)" font-size="9.8" text-anchor="middle">30</text>
<text transform="translate(292.80 705.70) scale(0.97 1)" font-size="9.8" text-anchor="middle">Months</text>
<text transform="translate(424.80 626.70) scale(0.97 1)" font-size="9.8">Tumor response</text>
<rect x="425.35" y="634.55" width="3.30" height="3.30" rx="0.5" fill="#c2203a"/>
<text transform="translate(433.80 639.00) scale(0.97 1)" font-size="9.8">Stable disease</text>
<circle cx="427.00" cy="646.15" r="1.7" fill="#3a57a7"/>
<text transform="translate(433.80 648.95) scale(0.97 1)" font-size="9.8">Progressive disease</text>
<circle cx="427.00" cy="656.10" r="1.6" fill="#dba33c"/>
<text transform="translate(433.80 658.90) scale(0.97 1)" font-size="9.8">Subject died</text>
<rect x="423.70" y="664.55" width="6.60" height="3.40" fill="#9aa2ae" stroke="#6f747c" stroke-width="0.7"/>
<text transform="translate(433.80 668.85) scale(0.97 1)" font-size="9.8">PFS</text>
</svg>
</body>
</html>
